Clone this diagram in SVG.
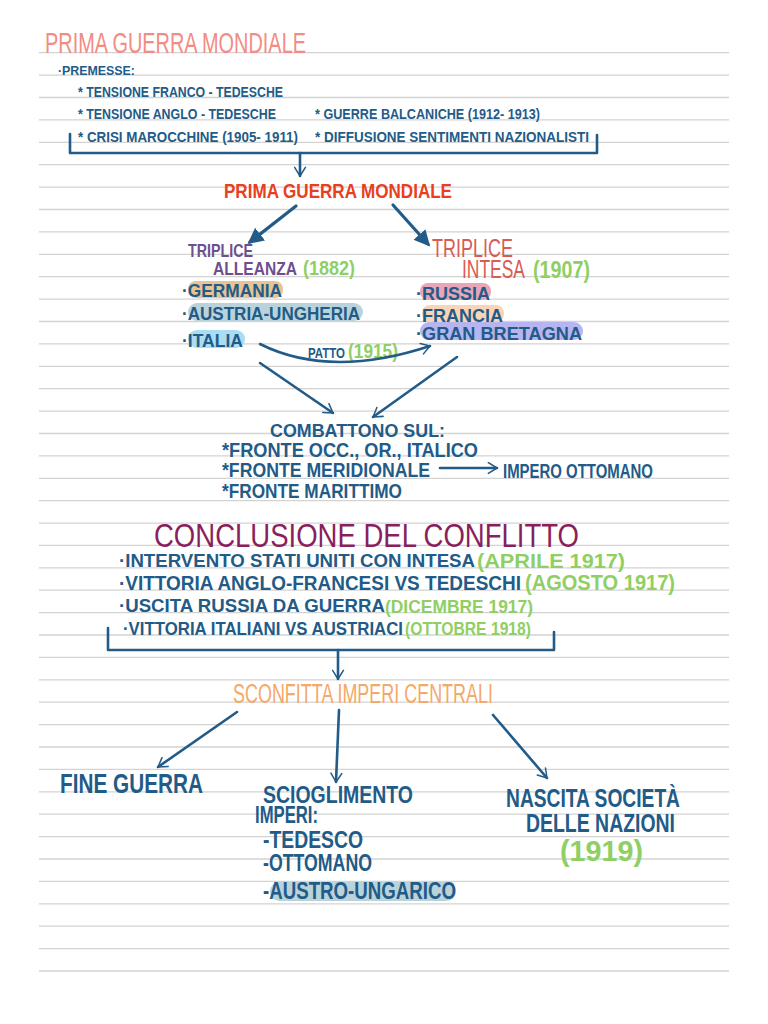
<svg xmlns="http://www.w3.org/2000/svg" width="768" height="1024" viewBox="0 0 768 1024">
<style>
text{font-family:"Liberation Sans","DejaVu Sans",sans-serif;}
.b{fill:#225b87;font-weight:bold;}
.g{fill:#8fcf63;font-weight:bold;}
.conn{fill:none;stroke:#225b87;stroke-width:2.6;stroke-linecap:round;stroke-linejoin:round;}
.hl{stroke:none;}
</style>
<defs>
<marker id="tri" viewBox="0 0 10 10" refX="8" refY="5" markerWidth="5" markerHeight="5" orient="auto" markerUnits="strokeWidth">
<path d="M0,0 L10,5 L0,10 z" fill="#225b87"/>
</marker>
<marker id="open" viewBox="0 0 12 12" refX="10" refY="6" markerWidth="5" markerHeight="5" orient="auto" markerUnits="strokeWidth">
<path d="M2,1 L10,6 L2,11" fill="none" stroke="#225b87" stroke-width="1.4" stroke-linecap="round" stroke-linejoin="round"/>
</marker>
</defs>
<rect width="768" height="1024" fill="#ffffff"/>
<g id="ruling" stroke="#d3d3d3" stroke-width="1.3">
<path d="M39,52.7H729M39,75.1H729M39,97.5H729M39,119.9H729M39,142.3H729M39,164.7H729M39,187.1H729M39,209.5H729M39,231.9H729M39,254.3H729M39,276.7H729M39,299.1H729M39,321.5H729M39,343.9H729M39,366.3H729M39,388.7H729M39,411.1H729M39,433.5H729M39,455.9H729M39,478.3H729M39,500.7H729M39,523.1H729M39,545.4H729M39,567.8H729M39,590.2H729M39,612.6H729M39,635H729M39,657.4H729M39,679.8H729M39,702.2H729M39,724.6H729M39,747H729M39,769.4H729M39,791.8H729M39,814.2H729M39,836.6H729M39,859H729M39,881.4H729M39,903.8H729M39,926.2H729M39,948.6H729M39,971H729"/>
</g>

<g id="title">
<text x="45" y="53" font-size="29" fill="#f28c84" textLength="261" lengthAdjust="spacingAndGlyphs">PRIMA GUERRA MONDIALE</text>
</g>

<g id="premesse">
<text class="b" x="58" y="75" font-size="13" textLength="77" lengthAdjust="spacingAndGlyphs">·PREMESSE:</text>
<text class="b" x="78" y="97" font-size="14" textLength="205" lengthAdjust="spacingAndGlyphs">* TENSIONE FRANCO - TEDESCHE</text>
<text class="b" x="78" y="119" font-size="14" textLength="198" lengthAdjust="spacingAndGlyphs">* TENSIONE ANGLO - TEDESCHE</text>
<text class="b" x="315" y="119" font-size="14" textLength="225" lengthAdjust="spacingAndGlyphs">* GUERRE BALCANICHE (1912- 1913)</text>
<text class="b" x="78" y="142" font-size="14" textLength="220" lengthAdjust="spacingAndGlyphs">* CRISI MAROCCHINE (1905- 1911)</text>
<text class="b" x="315" y="142" font-size="14" textLength="274" lengthAdjust="spacingAndGlyphs">* DIFFUSIONE SENTIMENTI NAZIONALISTI</text>
</g>

<g id="pgm">
<text x="224" y="198" font-size="21" fill="#e8401e" font-weight="bold" textLength="228" lengthAdjust="spacingAndGlyphs">PRIMA GUERRA MONDIALE</text>
</g>

<g id="triplice-alleanza">
<text x="188" y="257" font-size="19" fill="#6e4f8e" font-weight="bold" textLength="65" lengthAdjust="spacingAndGlyphs">TRIPLICE</text>
<text x="213" y="275" font-size="19" fill="#6e4f8e" font-weight="bold" textLength="84" lengthAdjust="spacingAndGlyphs">ALLEANZA</text>
<text class="g" x="303" y="275" font-size="20" textLength="52" lengthAdjust="spacingAndGlyphs">(1882)</text>
<rect class="hl" x="188" y="281" width="95" height="17" rx="8" fill="#e8c394"/>
<text class="b" x="182" y="297" font-size="19" textLength="100" lengthAdjust="spacingAndGlyphs">·GERMANIA</text>
<rect class="hl" x="188" y="303" width="175" height="18" rx="9" fill="#bad3da"/>
<text class="b" x="182" y="320" font-size="19" textLength="178" lengthAdjust="spacingAndGlyphs">·AUSTRIA-UNGHERIA</text>
<rect class="hl" x="188" y="330" width="57" height="18" rx="9" fill="#aadcf4"/>
<text class="b" x="182" y="347" font-size="19" textLength="61" lengthAdjust="spacingAndGlyphs">·ITALIA</text>
</g>

<g id="triplice-intesa">
<text x="432" y="257" font-size="25" fill="#d95c52" textLength="81" lengthAdjust="spacingAndGlyphs">TRIPLICE</text>
<text x="462" y="278" font-size="25" fill="#d95c52" textLength="63" lengthAdjust="spacingAndGlyphs">INTESA</text>
<text class="g" x="533" y="278" font-size="23" textLength="57" lengthAdjust="spacingAndGlyphs">(1907)</text>
<rect class="hl" x="420" y="283" width="71" height="17" rx="8" fill="#eaa5b9"/>
<text class="b" x="416" y="300" font-size="19" textLength="74" lengthAdjust="spacingAndGlyphs">·RUSSIA</text>
<rect class="hl" x="422" y="305" width="82" height="17" rx="8" fill="#f9d4b5"/>
<text class="b" x="416" y="322" font-size="19" textLength="87" lengthAdjust="spacingAndGlyphs">·FRANCIA</text>
<rect class="hl" x="420" y="322" width="163" height="18" rx="9" fill="#b6b5f2"/>
<text class="b" x="416" y="340" font-size="19" textLength="166" lengthAdjust="spacingAndGlyphs">·GRAN BRETAGNA</text>
</g>

<g id="patto">
<text class="b" x="308" y="358" font-size="14" textLength="37" lengthAdjust="spacingAndGlyphs">PATTO</text>
<text class="g" x="348" y="358" font-size="20" textLength="50" lengthAdjust="spacingAndGlyphs">(1915)</text>
</g>

<g id="combattono">
<text class="b" x="270" y="437" font-size="19" textLength="175" lengthAdjust="spacingAndGlyphs">COMBATTONO SUL:</text>
<text class="b" x="222" y="457" font-size="20" textLength="256" lengthAdjust="spacingAndGlyphs">*FRONTE OCC., OR., ITALICO</text>
<text class="b" x="222" y="477" font-size="20" textLength="208" lengthAdjust="spacingAndGlyphs">*FRONTE MERIDIONALE</text>
<text class="b" x="222" y="498" font-size="20" textLength="180" lengthAdjust="spacingAndGlyphs">*FRONTE MARITTIMO</text>
</g>

<g id="impero-ottomano">
<text class="b" x="503" y="478" font-size="20" textLength="150" lengthAdjust="spacingAndGlyphs">IMPERO OTTOMANO</text>
</g>

<g id="conclusione">
<text x="154" y="547" font-size="33" fill="#8a1f5e" textLength="425" lengthAdjust="spacingAndGlyphs">CONCLUSIONE DEL CONFLITTO</text>
<text class="b" x="119" y="567" font-size="19" textLength="356" lengthAdjust="spacingAndGlyphs">·INTERVENTO STATI UNITI CON INTESA</text>
<text class="g" x="477" y="568" font-size="21" textLength="148" lengthAdjust="spacingAndGlyphs">(APRILE 1917)</text>
<text class="b" x="119" y="590" font-size="20" textLength="402" lengthAdjust="spacingAndGlyphs">·VITTORIA ANGLO-FRANCESI VS TEDESCHI</text>
<text class="g" x="525" y="590" font-size="22" textLength="150" lengthAdjust="spacingAndGlyphs">(AGOSTO 1917)</text>
<text class="b" x="119" y="612" font-size="19" textLength="266" lengthAdjust="spacingAndGlyphs">·USCITA RUSSIA DA GUERRA</text>
<text class="g" x="385" y="613" font-size="19" textLength="148" lengthAdjust="spacingAndGlyphs">(DICEMBRE 1917)</text>
<text class="b" x="123" y="635" font-size="19" textLength="280" lengthAdjust="spacingAndGlyphs">·VITTORIA ITALIANI VS AUSTRIACI</text>
<text class="g" x="405" y="635" font-size="19" textLength="126" lengthAdjust="spacingAndGlyphs">(OTTOBRE 1918)</text>
</g>

<g id="sconfitta">
<text x="233" y="703" font-size="27" fill="#f5a868" textLength="260" lengthAdjust="spacingAndGlyphs">SCONFITTA IMPERI CENTRALI</text>
</g>

<g id="fine-guerra">
<text class="b" x="60" y="793" font-size="28" font-weight="normal" textLength="143" lengthAdjust="spacingAndGlyphs">FINE GUERRA</text>
</g>

<g id="scioglimento">
<text class="b" x="263" y="803" font-size="23" textLength="150" lengthAdjust="spacingAndGlyphs">SCIOGLIMENTO</text>
<text class="b" x="255" y="823" font-size="23" textLength="63" lengthAdjust="spacingAndGlyphs">IMPERI:</text>
<text class="b" x="263" y="848" font-size="23" textLength="100" lengthAdjust="spacingAndGlyphs">-TEDESCO</text>
<text class="b" x="263" y="871" font-size="23" textLength="109" lengthAdjust="spacingAndGlyphs">-OTTOMANO</text>
<rect class="hl" x="270" y="882" width="186" height="19" rx="9.5" fill="#bad3da"/>
<text class="b" x="263" y="899" font-size="23" textLength="193" lengthAdjust="spacingAndGlyphs">-AUSTRO-UNGARICO</text>
</g>

<g id="nascita">
<text class="b" x="506" y="807" font-size="25" textLength="174" lengthAdjust="spacingAndGlyphs">NASCITA SOCIETÀ</text>
<text class="b" x="526" y="832" font-size="25" textLength="149" lengthAdjust="spacingAndGlyphs">DELLE NAZIONI</text>
<text class="g" x="560" y="861" font-size="30" font-weight="normal" textLength="83" lengthAdjust="spacingAndGlyphs">(1919)</text>
</g>

<g id="connectors" class="conn">
<path d="M70,134 V153 H597 V135"/>
<path d="M300,153 V176" marker-end="url(#open)"/>
<path d="M296,206 L250,242" stroke-width="3.2" marker-end="url(#tri)"/>
<path d="M393,205 L428,244" stroke-width="3.2" marker-end="url(#tri)"/>
<path d="M260,344 Q330,379 430,346" marker-end="url(#open)"/>
<path d="M260,363 L333,413" marker-end="url(#open)"/>
<path d="M457,357 L373,417" marker-end="url(#open)"/>
<path d="M440,468 H497" marker-end="url(#open)"/>
<path d="M108,628 V650 H554 V632"/>
<path d="M338,650 V679" marker-end="url(#open)"/>
<path d="M237,712 L158,767" marker-end="url(#open)"/>
<path d="M339,710 L336,782" marker-end="url(#open)"/>
<path d="M493,715 L547,778" marker-end="url(#open)"/>
</g>
</svg>
